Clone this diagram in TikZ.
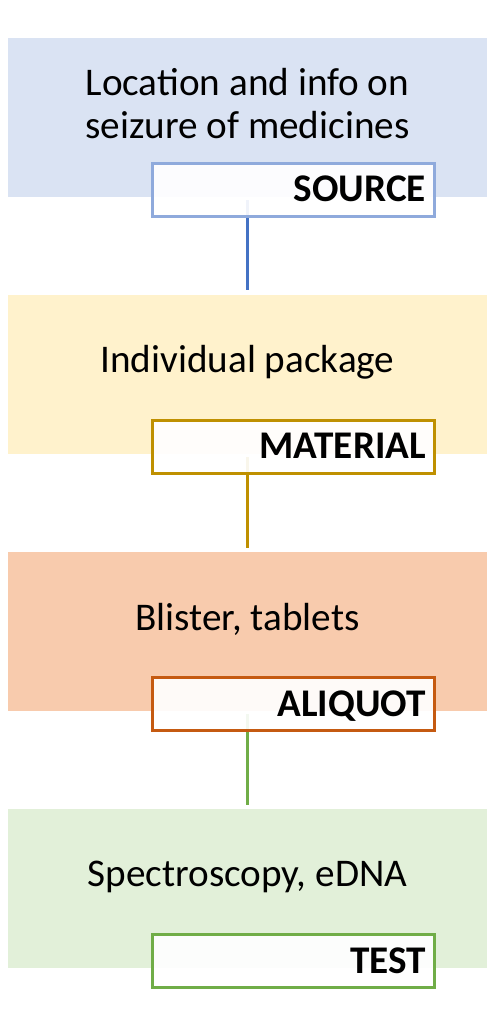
\documentclass[tikz,border=0pt]{standalone}
\usepackage{fontspec}
\setmainfont{Carlito}
\definecolor{srcfill}{HTML}{DAE3F3}
\definecolor{srcline}{HTML}{8FAADC}
\definecolor{srclink}{HTML}{4472C4}
\definecolor{matfill}{HTML}{FFF2CC}
\definecolor{matline}{HTML}{BF9000}
\definecolor{alifill}{HTML}{F8CBAD}
\definecolor{aliline}{HTML}{C55A11}
\definecolor{testfill}{HTML}{E2F0D9}
\definecolor{testline}{HTML}{70AD47}
\begin{document}
\begin{tikzpicture}[
  stage/.style={rectangle, minimum width=9.58cm, minimum height=3.18cm, inner sep=0pt},
  stagetext/.style={font=\fontsize{22.3}{24.5}\selectfont, align=center},
  tag/.style={rectangle, draw, line width=1.7pt, fill=white, fill opacity=0.92, text opacity=1,
    font=\fontsize{22.3}{24}\selectfont\bfseries, text width=5.3cm, inner xsep=0.17cm, align=right,
    minimum height=1.06cm, text height=0.48cm, text depth=0pt, anchor=east},
  link/.style={line width=1.7pt, shorten <=0.06cm, shorten >=0.08cm}
]
\useasboundingbox (0,0) rectangle (9.88,-20.48);

% Coloured stages
\node[stage, fill=srcfill] (loc) at (4.95,-2.34) {};
\node[stage, fill=matfill] (pack) at (4.95,-7.48) {};
\node[stage, fill=alifill] (blister) at (4.95,-12.63) {};
\node[stage, fill=testfill] (spec) at (4.95,-17.77) {};

% Texts of the stages
\node[stagetext] (loc-text) at ([yshift=0.26cm]loc.center) {Location and info on\\seizure of medicines};
\node[stagetext] (pack-text) at ([yshift=0.24cm]pack.center) {Individual package};
\node[stagetext] (blister-text) at ([yshift=0.24cm]blister.center) {Blister, tablets};
\node[stagetext] (spec-text) at ([yshift=0.24cm]spec.center) {Spectroscopy, eDNA};

% Links between stages
\draw[link, srclink] (loc.south) -- (pack.north);
\draw[link, matline] (pack.south) -- (blister.north);
\draw[link, testline] (blister.south) -- (spec.north);

% Tags
\node[tag, draw=srcline] (source) at ([xshift=-1.03cm, yshift=0.14cm]loc.south east) {SOURCE};
\node[tag, draw=matline] (material) at ([xshift=-1.03cm, yshift=0.14cm]pack.south east) {MATERIAL};
\node[tag, draw=aliline] (aliquot) at ([xshift=-1.03cm, yshift=0.14cm]blister.south east) {ALIQUOT};
\node[tag, draw=testline] (test) at ([xshift=-1.03cm, yshift=0.14cm]spec.south east) {TEST};

\end{tikzpicture}
\end{document}
